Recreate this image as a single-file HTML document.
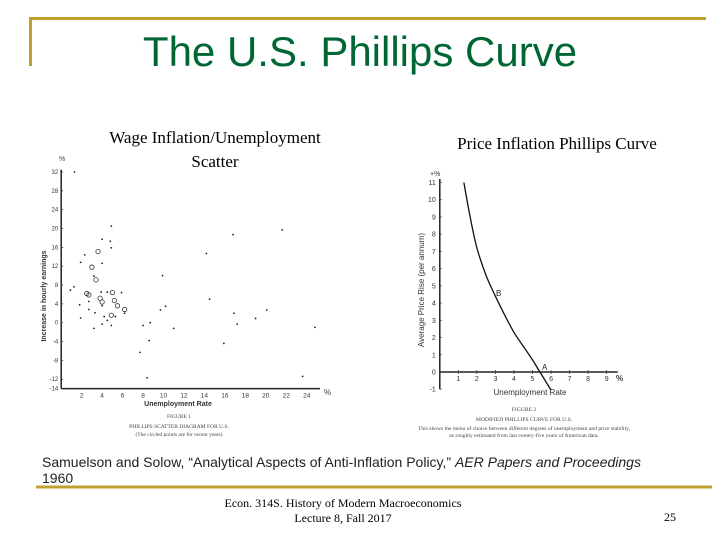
<!DOCTYPE html>
<html><head><meta charset="utf-8"><style>
body{margin:0;background:#fff;}
svg{display:block;}
</style></head><body>
<svg width="720" height="540" viewBox="0 0 720 540" xmlns="http://www.w3.org/2000/svg">
<rect width="720" height="540" fill="#fff"/>
<line x1="29" y1="18.5" x2="706" y2="18.5" stroke="#c0a030" stroke-width="3"/>
<line x1="30.5" y1="17" x2="30.5" y2="66" stroke="#c0a030" stroke-width="3"/>
<text x="360" y="66" text-anchor="middle" font-family="Liberation Sans, sans-serif" font-size="42" fill="#006633">The U.S. Phillips Curve</text>
<text x="215" y="143" text-anchor="middle" font-family="Liberation Serif, serif" font-size="17">Wage Inflation/Unemployment</text>
<text x="215" y="167" text-anchor="middle" font-family="Liberation Serif, serif" font-size="17">Scatter</text>
<text x="557" y="149" text-anchor="middle" font-family="Liberation Serif, serif" font-size="17">Price Inflation Phillips Curve</text>
<g id="left"></g>
<g id="right"></g>
<text x="42" y="467" font-family="Liberation Sans, sans-serif" font-size="14" fill="#222">Samuelson and Solow, “Analytical Aspects of Anti-Inflation Policy,” <tspan font-style="italic">AER Papers and Proceedings</tspan></text>
<text x="42" y="483" font-family="Liberation Sans, sans-serif" font-size="14" fill="#222">1960</text>
<line x1="36" y1="487" x2="712" y2="487" stroke="#c0a030" stroke-width="3"/>
<text x="343" y="507" text-anchor="middle" font-family="Liberation Serif, serif" font-size="12">Econ. 314S.  History of Modern Macroeconomics</text>
<text x="343" y="522" text-anchor="middle" font-family="Liberation Serif, serif" font-size="12">Lecture 8, Fall 2017</text>
<text x="670" y="521" text-anchor="middle" font-family="Liberation Serif, serif" font-size="12">25</text>
</svg>
<script>
const NS='http://www.w3.org/2000/svg';
const dotX=[1.3,4.9,4.0,4.8,4.9,2.3,1.9,4.0,3.2,1.25,0.9,3.9,4.5,5.9,2.7,1.8,4.0,2.7,3.3,1.9,4.2,4.5,4.0,4.9,3.2,5.3,6.2,8.7,8.0,8.6,7.7,8.4,9.9,9.7,10.2,11.0,14.2,14.5,16.8,16.9,17.2,15.9,19.0,20.1,21.6,23.6,24.8];
const dotY=[32,20.5,17.7,17.3,15.9,14.4,12.8,12.6,9.9,7.6,6.9,6.5,6.5,6.4,4.5,3.8,3.6,2.8,2.1,1.0,1.3,0.5,-0.3,-0.6,-1.2,1.3,2.0,0,-0.6,-3.8,-6.3,-11.7,10.0,2.7,3.5,-1.2,14.7,5.0,18.7,2.0,-0.3,-4.4,0.9,2.7,19.7,-11.4,-1.0];
const circX=[3.6,3.0,3.4,2.5,2.7,5.0,3.8,4.0,5.2,5.5,6.2,4.9];
const circY=[15.1,11.8,9.1,6.2,5.9,6.4,5.2,4.4,4.7,3.6,2.8,1.6];
const leftXTicks=[2,4,6,8,10,12,14,16,18,20,22,24];
const leftYTicks=[32,28,24,20,16,12,8,4,0,-4,-8,-12,-14];
const curveU=[1.3,1.6,2.0,2.5,3.0,3.5,4.0,4.5,5.0,5.4,6.0];
const curveP=[11,9.2,7.2,5.6,4.4,3.3,2.3,1.5,0.7,0,-1.05];
const rightXTicks=[1,2,3,4,5,6,7,8,9];
const rightYTicks=[11,10,9,8,7,6,5,4,3,2,1,0,-1];

function mk(parent,tag,attrs,txt){const e=document.createElementNS(NS,tag);for(const k in attrs)e.setAttribute(k,attrs[k]);if(txt!==undefined)e.textContent=txt;parent.appendChild(e);return e;}
const F='Liberation Sans, sans-serif';
const L=document.getElementById('left');
const lx=v=>61.2+v*10.23, ly=v=>322.7-v*4.71;
let e;
e=mk(L,'line',{x1:lx(0),y1:ly(32.5),x2:lx(0),y2:ly(-14),stroke:'#222','stroke-width':1.5});


e=mk(L,'line',{x1:lx(0),y1:ly(-14),x2:lx(25.3),y2:ly(-14),stroke:'#222','stroke-width':1.5});


leftYTicks.forEach(t=>{
  e=mk(L,'text',{x:lx(0)-3,y:ly(t)+2,'text-anchor':'end','font-family':F,'font-size':6,fill:'#333'},String(t));
  
  
  mk(L,'line',{x1:lx(0),y1:ly(t),x2:lx(0)+2,y2:ly(t),stroke:'#333','stroke-width':0.7});
});
leftXTicks.forEach(t=>{
  e=mk(L,'text',{x:lx(t),y:ly(-14)+9,'text-anchor':'middle','font-family':F,'font-size':6.5,fill:'#333'},String(t));
  
  
});
e=mk(L,'text',{x:59,y:161,'font-family':F,'font-size':7,fill:'#444'},'%');


e=mk(L,'text',{x:324,y:395,'font-family':F,'font-size':8,fill:'#444'},'%');


e=mk(L,'text',{x:178,y:406,'text-anchor':'middle','font-family':F,'font-size':7,'font-weight':'bold',fill:'#333'},'Unemployment Rate');


e=mk(L,'text',{x:46,y:296,'text-anchor':'middle','font-family':F,'font-size':7,'font-weight':'bold',fill:'#333',transform:'rotate(-90 46 296)'},'Increase in hourly earnings');


[['FIGURE 1',418],['PHILLIPS SCATTER DIAGRAM FOR U.S.',428],['(The circled points are for recent years)',436]].forEach(([s,y])=>{
  e=mk(L,'text',{x:179,y:y,'text-anchor':'middle','font-family':'Liberation Serif, serif','font-size':5.5,fill:'#444'},s);
  
  
});
dotX.forEach((x,i)=>{
  e=mk(L,'circle',{cx:lx(x),cy:ly(dotY[i]),r:0.9,fill:'#222'});
  
  
});
circX.forEach((x,i)=>{
  e=mk(L,'circle',{cx:lx(x),cy:ly(circY[i]),r:2.2,fill:'none',stroke:'#333','stroke-width':0.8});
  
  
});
const R=document.getElementById('right');
const rx=v=>439.8+v*18.54, ry=v=>372-v*17.23;
e=mk(R,'line',{x1:rx(0),y1:ry(11.2),x2:rx(0),y2:ry(-1),stroke:'#222','stroke-width':1.5});


e=mk(R,'line',{x1:rx(0),y1:ry(0),x2:rx(9.6),y2:ry(0),stroke:'#222','stroke-width':1.5});


rightYTicks.forEach(t=>{
  e=mk(R,'text',{x:rx(0)-4,y:ry(t)+2.5,'text-anchor':'end','font-family':F,'font-size':7,fill:'#333'},String(t));
  
  
  mk(R,'line',{x1:rx(0),y1:ry(t),x2:rx(0)+2,y2:ry(t),stroke:'#333','stroke-width':0.7});
});
rightXTicks.forEach(t=>{
  mk(R,'line',{x1:rx(t),y1:ry(0)-2,x2:rx(t),y2:ry(0)+2,stroke:'#333','stroke-width':0.7});
  e=mk(R,'text',{x:rx(t),y:ry(0)+9,'text-anchor':'middle','font-family':F,'font-size':7,fill:'#333'},String(t));
  
  
});
e=mk(R,'text',{x:430,y:176,'font-family':F,'font-size':7,fill:'#333'},'+%');


e=mk(R,'text',{x:616,y:381,'font-family':F,'font-size':8,fill:'#333','font-weight':'bold'},'%');


e=mk(R,'text',{x:530,y:395,'text-anchor':'middle','font-family':F,'font-size':8,fill:'#333'},'Unemployment Rate');


e=mk(R,'text',{x:424,y:290,'text-anchor':'middle','font-family':F,'font-size':8,fill:'#333',transform:'rotate(-90 424 290)'},'Average Price Rise (per annum)');


const pts=curveU.map((u,i)=>[rx(u),ry(curveP[i])]);
let d='M'+pts[0][0].toFixed(1)+','+pts[0][1].toFixed(1);
for(let i=0;i<pts.length-1;i++){
  const p0=pts[Math.max(0,i-1)],p1=pts[i],p2=pts[i+1],p3=pts[Math.min(pts.length-1,i+2)];
  const c1=[p1[0]+(p2[0]-p0[0])/6,p1[1]+(p2[1]-p0[1])/6];
  const c2=[p2[0]-(p3[0]-p1[0])/6,p2[1]-(p3[1]-p1[1])/6];
  d+='C'+c1.map(v=>v.toFixed(1)).join(',')+' '+c2.map(v=>v.toFixed(1)).join(',')+' '+p2.map(v=>v.toFixed(1)).join(',');
}
e=mk(R,'path',{d:d,fill:'none',stroke:'#111','stroke-width':1.3,'stroke-linejoin':'round'});


e=mk(R,'text',{x:496,y:296,'font-family':F,'font-size':8,fill:'#222'},'B');


e=mk(R,'text',{x:542,y:370,'font-family':F,'font-size':8,fill:'#222'},'A');


[['FIGURE 2',411],['MODIFIED PHILLIPS CURVE FOR U.S.',421],['This shows the menu of choice between different degrees of unemployment and price stability,',430],['as roughly estimated from last twenty-five years of American data.',437]].forEach(([s,y])=>{
  e=mk(R,'text',{x:524,y:y,'text-anchor':'middle','font-family':'Liberation Serif, serif','font-size':5.6,fill:'#444'},s);
  
  
});
</script>
</body></html>
